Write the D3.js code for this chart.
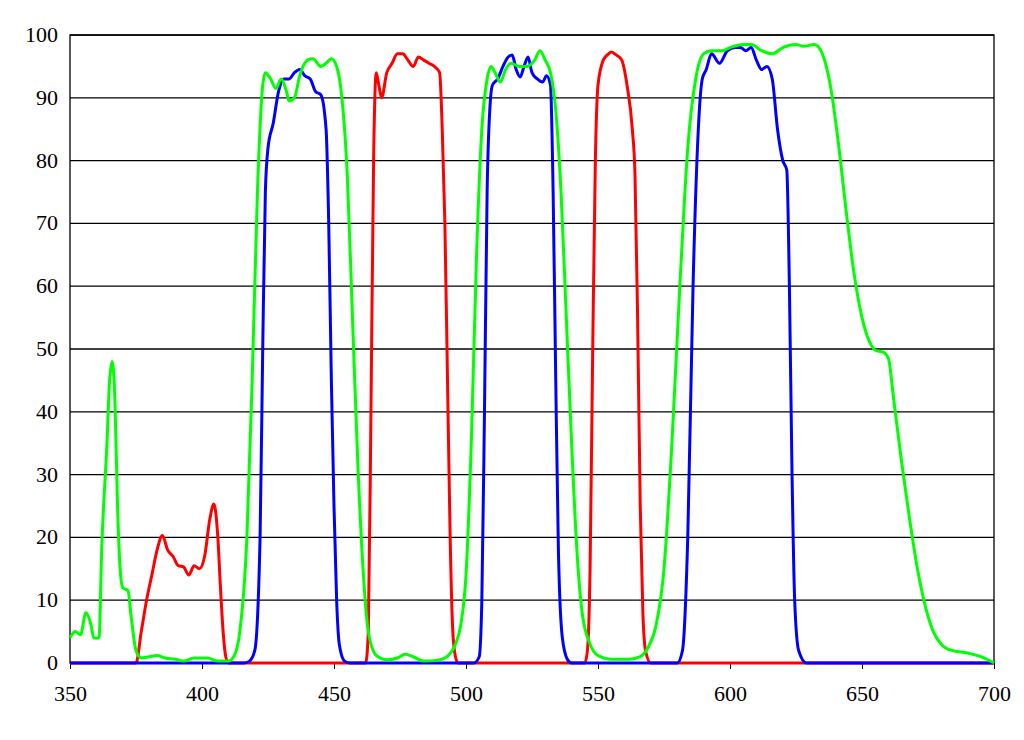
<!DOCTYPE html><html><head><meta charset="utf-8"><script src="https://cdn.jsdelivr.net/npm/d3@7"></script>
<style>body{margin:0;background:#fff}text{font-family:"Liberation Serif",serif;font-size:22px}</style></head><body><svg id="c" width="1024" height="740"></svg><script>
const xTicks=[350,400,450,500,550,600,650,700];
const yTicks=[0,10,20,30,40,50,60,70,80,90,100];
const green=[[350,4],[352,5],[354,4.5],[356,8],[358,6],[359,4],[361,4],[362,18],[364,35],[365,45],[366,48],[367,42],[368,25],[369,15],[370,12],[372,11.5],[373,8],[375,2],[377,0.8],[380,1],[383,1.2],[386,0.8],[390,0.6],[393,0.3],[397,0.8],[402,0.8],[406,0.3],[410,0.3],[412,1],[414,4],[417,20],[419,45],[421,75],[423,92],[424,94],[426,93],[428,91.5],[430,93],[432,91],[433,89.5],[435,90],[437,93.5],[440,96],[442,96.2],[445,95],[447,95.5],[449,96.2],[451,95],[453,90],[455,78],[457,55],[459,32],[461,15],[463,5],[466,1.2],[470,0.5],[474,0.8],[477,1.4],[480,1],[484,0.3],[490,0.5],[494,1.5],[496,3],[498,6],[500,14],[502,35],[504,65],[506,85],[508,93],[509.5,95],[511,94],[513,92.5],[515,94.5],[517,95.5],[520,95],[523,95],[526,96],[528,97.5],[530,96],[532,94],[534,88],[536,75],[538,55],[540,35],[542,18],[544,8],[547,3],[550,1.2],[555,0.6],[562,0.6],[566,1],[569,2.5],[572,6],[575,15],[578,35],[581,60],[584,82],[587,93],[590,97],[593,97.5],[597,97.5],[600,98],[605,98.5],[608,98.5],[612,97.5],[616,97],[620,98],[625,98.5],[628,98.2],[632,98.5],[635,97],[638,92],[641,83],[644,72],[647,62],[650,55],[653,51],[655,49.8],[658,49.5],[660,48.5],[662,42],[665,32],[668,23],[671,15],[674,9],[677,5],[680,3],[684,2],[690,1.6],[695,1],[700,0]];
const blue=[[350,0],[416,0],[418,0.3],[420,2],[422,20],[423,50],[424,75],[425,82],[427,86],[429,91],[431,93],[433,93],[435,94],[437,94.5],[439,93.5],[441,93],[443,91],[445,90.5],[447,85],[448,70],[449,45],[450,25],[451,10],[452,3],[454,0.3],[456,0],[503,0],[505,1],[506,10],[507,40],[508,75],[509,88],[510,92],[512,93],[514,95],[516,96.5],[517.5,96.8],[519,94.5],[520.5,93.3],[522,95],[523.5,96.5],[525,94],[527,93],[529,92.5],[530.5,93.5],[532,92],[533,75],[534,45],[535,18],[536.5,4],[538.5,0.5],[540,0],[580,0],[582,2],[584,20],[586,60],[588,85],[589.5,93],[591,94.5],[593,97],[596,95.5],[599,97.5],[602,98],[604,98],[606,97.5],[608,98],[610,96],[612,94.5],[614,95],[616,93],[618,85],[620,80],[621.5,78.5],[622.5,60],[623.5,30],[624.5,10],[626,2],[629,0],[700,0]];
const red=[[350,0],[375,0],[377,5],[379,10],[381,14],[383,18],[385,20.3],[387,18],[389,17],[391,15.5],[393,15.3],[395,14],[397,15.5],[399,15],[401,17],[403,23],[404.5,25.3],[406,20],[407,12],[408,5],[409,1],[410,0],[462,0],[463,5],[464,40],[465,80],[466,94],[467,92],[468,90],[470,94],[472,95.5],[474,97],[476,97],[478,96],[480,95],[482,96.5],[484,96],[486,95.5],[488,95],[490,94],[491,85],[492,70],[493,45],[494,20],[495,5],[496,1],[497,0],[545,0],[546,2],[547,15],[548,50],[549,80],[550,92],[552,96],[554,97],[555,97.3],[557,96.8],[559,96],[561,92],[563,85],[564,78],[565,55],[566,25],[567,8],[568,2],[570,0],[700,0]];
const svg=d3.select("#c");
const x=d3.scaleLinear().domain([350,700]).range([70,994]);
const y=d3.scaleLinear().domain([0,100]).range([663,35]);
svg.append("g").selectAll("line").data(yTicks).join("line").attr("x1",70).attr("x2",994).attr("y1",d=>y(d)).attr("y2",d=>y(d)).attr("stroke","#000").attr("stroke-width",1.3);
svg.append("rect").attr("x",70).attr("y",35).attr("width",924).attr("height",628).attr("fill","none").attr("stroke","#000").attr("stroke-width",1.3);
svg.append("g").selectAll("text").data(yTicks).join("text").attr("x",58).attr("y",d=>y(d)+7).attr("text-anchor","end").text(d=>d);
svg.append("g").attr("transform","translate(0,663)").call(d3.axisBottom(x).tickValues(xTicks).tickSize(6).tickFormat(d=>d)).call(g=>{g.select(".domain").remove();g.selectAll("line").attr("stroke","#000");g.selectAll("text").attr("dy","1.3em").style("font-family","Liberation Serif").style("font-size","22px").attr("fill","#000");});
const line=d3.line().x(d=>x(d[0])).y(d=>y(d[1])).curve(d3.curveMonotoneX);
[[red,"#ff0000"],[blue,"#0000ff"],[green,"#00ff00"]].forEach(([d,c])=>svg.append("path").attr("d",line(d)).attr("fill","none").attr("stroke",c).attr("stroke-width",3));
</script></body></html>
